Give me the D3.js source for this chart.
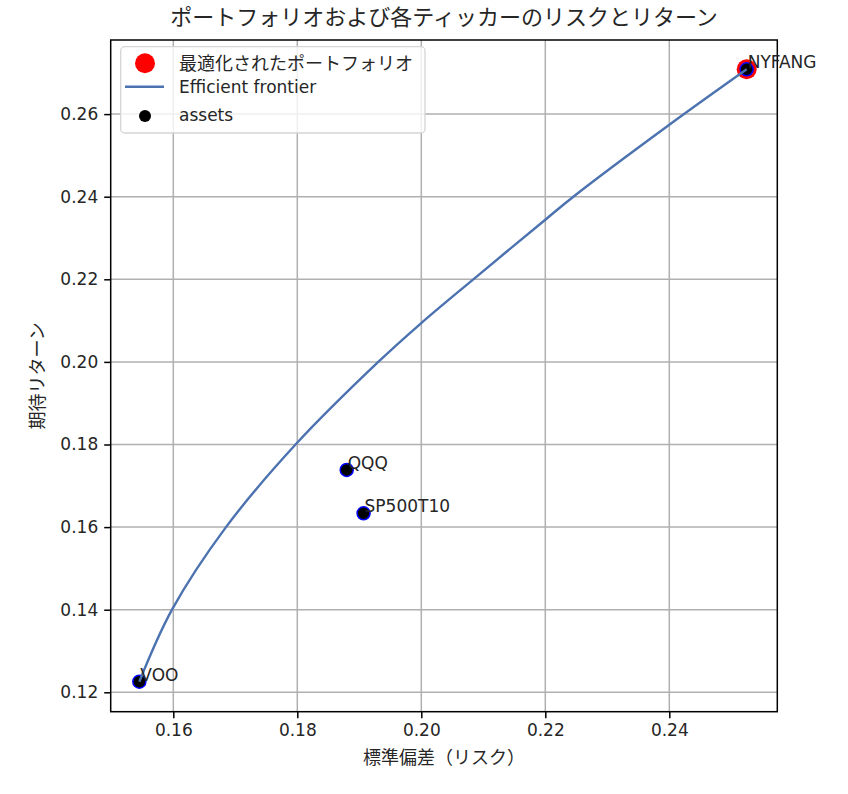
<!DOCTYPE html>
<html>
<head>
<meta charset="utf-8">
<script src="https://cdn.jsdelivr.net/npm/d3@7"></script>
<style>
  body { margin: 0; background: #fff; }
  svg { display: block; }
  text { font-family: "DejaVu Sans", "Noto Sans CJK JP", sans-serif; fill: #262626; }
  .jp { font-family: "Noto Sans CJK JP", sans-serif; }
</style>
</head>
<body>
<svg id="chart" width="848" height="794"></svg>
<script>
// ---- data ----
const tickers = ["VOO", "QQQ", "SP500T10", "NYFANG"];
const risks   = [0.15452, 0.18797, 0.19069, 0.25248];
const returns = [0.12257, 0.17383, 0.16334, 0.27085];

const optimalRisk = 0.25248;
const optimalReturn = 0.27085;

const frontierRisk   = [0.15452, 0.15979, 0.16850, 0.17990, 0.19306, 0.19995, 0.20839,
  0.21995, 0.22452, 0.23995, 0.25248];
const frontierReturn = [0.12257, 0.14000, 0.16000, 0.18029, 0.20000, 0.20935, 0.22000,
  0.23436, 0.24000, 0.25736, 0.27085];

const xTicks = [0.16, 0.18, 0.20, 0.22, 0.24];
const yTicks = [0.12, 0.14, 0.16, 0.18, 0.20, 0.22, 0.24, 0.26];
const xDomain = [0.149903, 0.257419];
const yDomain = [0.115303, 0.277942];

const titleText = "ポートフォリオおよび各ティッカーのリスクとリターン";
const xLabel = "標準偏差（リスク）";
const yLabel = "期待リターン";
const legendLabels = ["最適化されたポートフォリオ", "Efficient frontier", "assets"];

// ---- layout ----
const L = 110.7, R = 777.3, T = 40, B = 711.7;
const svg = d3.select("#chart");
const x = d3.scaleLinear().domain(xDomain).range([L, R]);
const y = d3.scaleLinear().domain(yDomain).range([B, T]);

// grid
const grid = svg.append("g");
grid.selectAll("line.vx").data(xTicks).join("line")
  .attr("x1", d => x(d)).attr("x2", d => x(d)).attr("y1", T).attr("y2", B)
  .attr("stroke", "#b0b0b0").attr("stroke-width", 1.5);
grid.selectAll("line.hy").data(yTicks).join("line")
  .attr("y1", d => y(d)).attr("y2", d => y(d)).attr("x1", L).attr("x2", R)
  .attr("stroke", "#b0b0b0").attr("stroke-width", 1.5);

// axes
const fmt = d3.format(".2f");
const xAxis = svg.append("g").attr("transform", `translate(0,${B})`)
  .call(d3.axisBottom(x).tickValues(xTicks).tickFormat(fmt).tickSize(6.5).tickPadding(6));
const yAxis = svg.append("g").attr("transform", `translate(${L},0)`)
  .call(d3.axisLeft(y).tickValues(yTicks).tickFormat(fmt).tickSize(6.5).tickPadding(6));
[xAxis, yAxis].forEach(a => {
  a.select(".domain").remove();
  a.selectAll(".tick line").attr("stroke", "#000").attr("stroke-width", 1.5);
  a.selectAll(".tick text").attr("font-size", 17).attr("fill", "#262626")
    .style("font-family", '"DejaVu Sans", sans-serif');
});

// frame
svg.append("rect").attr("x", L).attr("y", T).attr("width", R - L).attr("height", B - T)
  .attr("fill", "none").attr("stroke", "#000").attr("stroke-width", 1.5);

// optimal portfolio
svg.append("circle").attr("cx", x(optimalRisk)).attr("cy", y(optimalReturn)).attr("r", 10)
  .attr("fill", "#ff0000");

// assets
svg.append("g").selectAll("circle").data(tickers).join("circle")
  .attr("cx", (d, i) => x(risks[i])).attr("cy", (d, i) => y(returns[i])).attr("r", 6.5)
  .attr("fill", "#000").attr("stroke", "#0000ff").attr("stroke-width", 1.5);

// frontier
const pts = frontierRisk.map((r, i) => [r, frontierReturn[i]]);
svg.append("path").datum(pts)
  .attr("d", d3.line().x(d => x(d[0])).y(d => y(d[1])).curve(d3.curveCatmullRom.alpha(0.5)))
  .attr("fill", "none").attr("stroke", "#4c72b0").attr("stroke-width", 2.4);

// annotations
svg.append("g").selectAll("text").data(tickers).join("text")
  .attr("x", (d, i) => x(risks[i]) + 1).attr("y", (d, i) => y(returns[i]) - 1)
  .attr("font-size", 17).text(d => d);

// title & labels
svg.append("text").attr("class", "jp").attr("x", (L + R) / 2).attr("y", 25)
  .attr("text-anchor", "middle").attr("font-size", 22).text(titleText);
svg.append("text").attr("class", "jp").attr("x", (L + R) / 2).attr("y", 764)
  .attr("text-anchor", "middle").attr("font-size", 18).text(xLabel);
svg.append("text").attr("class", "jp")
  .attr("transform", `translate(44,${(T + B) / 2}) rotate(-90)`)
  .attr("text-anchor", "middle").attr("font-size", 18).text(yLabel);

// legend
const lg = svg.append("g");
lg.append("rect").attr("x", 120.7).attr("y", 46.7).attr("width", 304.3).attr("height", 86.3)
  .attr("rx", 4).attr("fill", "#fff").attr("fill-opacity", 0.8)
  .attr("stroke", "#d5d5d5").attr("stroke-width", 1.3);
lg.append("circle").attr("cx", 145).attr("cy", 63.3).attr("r", 10).attr("fill", "#ff0000");
lg.append("line").attr("x1", 125).attr("x2", 164).attr("y1", 86.7).attr("y2", 86.7)
  .attr("stroke", "#4c72b0").attr("stroke-width", 2.4);
lg.append("circle").attr("cx", 145).attr("cy", 116).attr("r", 6).attr("fill", "#000");
const ly = [63.3, 86.7, 115];
lg.selectAll("text.lt").data(legendLabels).join("text")
  .attr("class", (d, i) => i === 0 ? "jp" : null)
  .attr("x", 179).attr("y", (d, i) => ly[i]).attr("dy", "0.35em")
  .attr("font-size", (d, i) => i === 0 ? 18 : 17).text(d => d);
</script>
</body>
</html>
